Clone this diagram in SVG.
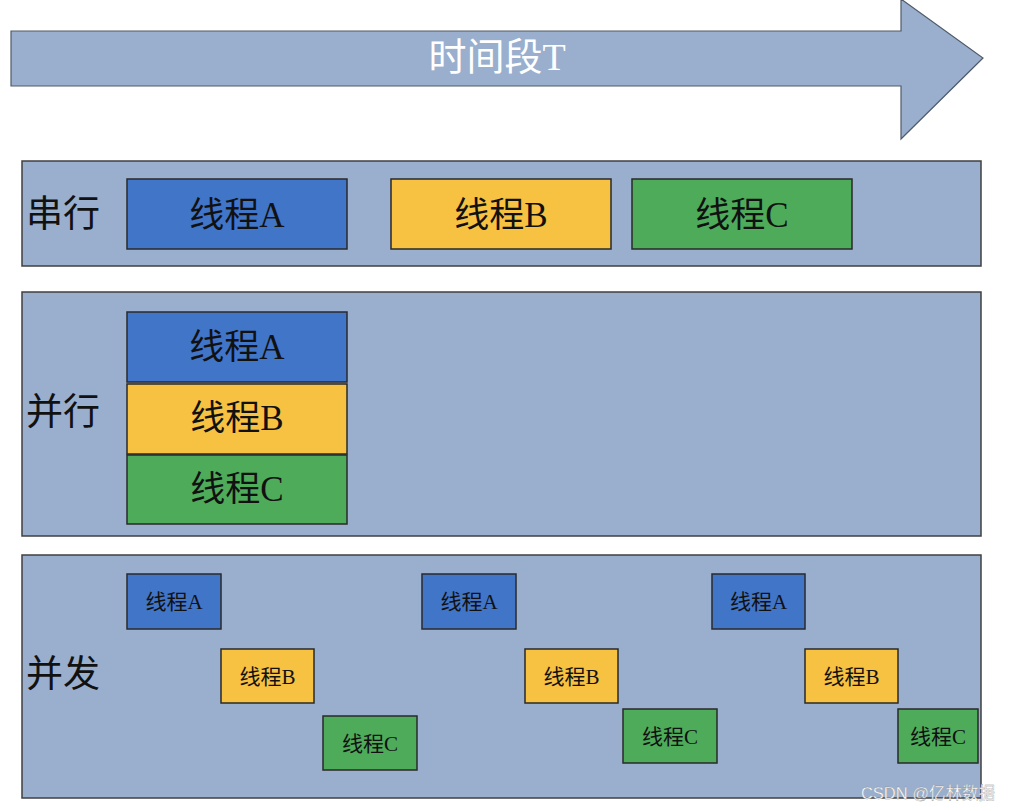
<svg xmlns="http://www.w3.org/2000/svg" width="1011" height="811" viewBox="0 0 1011 811">
<style>
.panel{fill:#99afcd;stroke:#404040;stroke-width:1.5}
.box{stroke:#2a2a2a;stroke-width:1.5}
.a{fill:#4175c8}
.b{fill:#f7c142}
.c{fill:#4eab5a}
.t{font-family:"Liberation Serif","Noto Sans CJK SC",serif;fill:#111;text-anchor:middle}
.big{font-size:35px}
.sm{font-size:21px}
.lab{font-family:"Noto Sans CJK SC",sans-serif;font-size:37px;fill:#111}
</style>
<rect width="1011" height="811" fill="#ffffff"/>
<g id="arrow">
<polygon points="11,31 901,31 901,-1 983,58 901,139 901,86 11,86" fill="#99afcd" stroke="#505a68" stroke-width="1.2"/>
<text x="497" y="70" class="t" style="font-size:38px;fill:#ffffff">时间段T</text>
</g>
<g id="serial">
<rect x="22" y="161" width="959" height="105" class="panel"/>
<text x="26" y="227" class="lab">串行</text>
<g id="s-a"><rect x="127" y="179" width="220" height="70" class="box a"/><text x="237" y="227" class="t big">线程A</text></g>
<g id="s-b"><rect x="391" y="179" width="220" height="70" class="box b"/><text x="501" y="227" class="t big">线程B</text></g>
<g id="s-c"><rect x="632" y="179" width="220" height="70" class="box c"/><text x="742" y="227" class="t big">线程C</text></g>
</g>
<g id="parallel">
<rect x="22" y="292" width="959" height="244" class="panel"/>
<text x="26" y="425" class="lab">并行</text>
<g id="p-a"><rect x="127" y="312" width="220" height="70" class="box a"/><text x="237" y="359" class="t big">线程A</text></g>
<g id="p-b"><rect x="127" y="384" width="220" height="70" class="box b"/><text x="237" y="430" class="t big">线程B</text></g>
<g id="p-c"><rect x="127" y="455" width="220" height="69" class="box c"/><text x="237" y="501" class="t big">线程C</text></g>
</g>
<g id="concurrent">
<rect x="22" y="555" width="959" height="243" class="panel"/>
<text x="26" y="687" class="lab">并发</text>
<g id="c-a1"><rect x="127" y="574" width="94" height="55" class="box a"/><text x="174" y="609" class="t sm">线程A</text></g>
<g id="c-b1"><rect x="221" y="649" width="93" height="54" class="box b"/><text x="267.5" y="684" class="t sm">线程B</text></g>
<g id="c-c1"><rect x="323" y="716" width="94" height="54" class="box c"/><text x="370" y="751" class="t sm">线程C</text></g>
<g id="c-a2"><rect x="422" y="574" width="94" height="55" class="box a"/><text x="469" y="609" class="t sm">线程A</text></g>
<g id="c-b2"><rect x="525" y="649" width="93" height="54" class="box b"/><text x="571.5" y="684" class="t sm">线程B</text></g>
<g id="c-c2"><rect x="623" y="709" width="94" height="54" class="box c"/><text x="670" y="744" class="t sm">线程C</text></g>
<g id="c-a3"><rect x="712" y="574" width="93" height="55" class="box a"/><text x="758.5" y="609" class="t sm">线程A</text></g>
<g id="c-b3"><rect x="805" y="649" width="93" height="54" class="box b"/><text x="851.5" y="684" class="t sm">线程B</text></g>
<g id="c-c3"><rect x="898" y="709" width="80" height="54" class="box c"/><text x="938" y="744" class="t sm">线程C</text></g>
</g>
<g id="connectors"></g>
<text x="995" y="799" style="font-family:'Liberation Sans','Noto Sans CJK SC',sans-serif;font-size:16.5px;fill:#ffffff;text-anchor:end;stroke:#8a8a8a;stroke-width:0.3">CSDN @亿林数据</text>
</svg>
